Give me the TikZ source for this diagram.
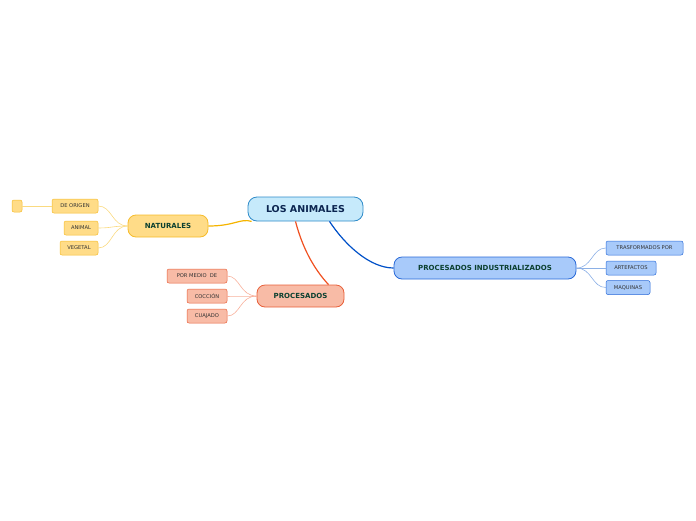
\documentclass[tikz,border=0pt]{standalone}
\usepackage{fontspec}
\setmainfont{DejaVu Sans}
\begin{document}
\begin{tikzpicture}[x=1pt,y=-1pt,
 box/.style={draw,rounded corners=#1,inner sep=0pt,align=center},
 root/.style={box=9pt,fill=rootf,draw=rootd,line width=0.8pt,minimum width=115pt,minimum height=24pt,font=\fontsize{9.5}{10}\selectfont\bfseries,text=roott},
 main/.style={box=8pt,line width=0.8pt,minimum height=22pt,font=\fontsize{7}{8}\selectfont\bfseries,text=maint},
 sub/.style={box=2pt,line width=0.5pt,minimum height=14pt,font=\fontsize{5.2}{6}\selectfont,text=black!80},
 nat/.style={fill=natf,draw=natd},
 pro/.style={fill=prof,draw=prod},
 ind/.style={fill=indf,draw=indd},
]
\definecolor{rootf}{HTML}{C6EAFB}\definecolor{rootd}{HTML}{2E8BC9}\definecolor{roott}{HTML}{0B2550}
\definecolor{maint}{HTML}{0B4030}
\definecolor{natf}{HTML}{FFDC88}\definecolor{natd}{HTML}{F6BC2A}\definecolor{natl}{HTML}{F5B400}
\definecolor{prof}{HTML}{F8BBA6}\definecolor{prod}{HTML}{E8603A}\definecolor{prol}{HTML}{F05020}
\definecolor{indf}{HTML}{A8CAFA}\definecolor{indd}{HTML}{2A6AD8}\definecolor{indl}{HTML}{0050C8}
\useasboundingbox (0,0) rectangle (696,520);
\node[root] (r) at (305.5,209) {LOS ANIMALES};
\node[main,nat,minimum width=80pt] (n) at (168,226) {NATURALES};
\node[main,pro,minimum width=87pt] (p) at (300.5,296) {PROCESADOS};
\node[main,ind,minimum width=182pt] (i) at (485,268) {PROCESADOS INDUSTRIALIZADOS};
\node[sub,nat,minimum width=46pt] (n1) at (75,206) {DE ORIGEN};
\node[sub,nat,minimum width=10pt,minimum height=12pt] (n0) at (17,206) {};
\node[sub,nat,minimum width=34pt] (n2) at (81,228) {ANIMAL};
\node[sub,nat,minimum width=38pt] (n3) at (79,248) {VEGETAL};
\node[sub,pro,minimum width=60pt] (p1) at (197,276) {POR MEDIO\ \ DE};
\node[sub,pro,minimum width=40pt] (p2) at (207,296) {COCCIÓN};
\node[sub,pro,minimum width=40pt] (p3) at (207,316) {CUAJADO};
\node[sub,ind,minimum width=77pt] (i1) at (644.5,248) {TRASFORMADOS POR};
\node[sub,ind,minimum width=50pt] (i2) at (631,268) {ARTEFACTOS};
\node[sub,ind,minimum width=44pt] (i3) at (628,287.5) {MAQUINAS};
\begin{scope}[on background layer/.style={}]
\draw[natl,line width=1.2pt] (n.east) .. controls (235,226) and (240,218) .. ([xshift=4pt]r.south west);
\draw[prol,line width=1.2pt] ([xshift=-10pt]r.south) .. controls (303,250) and (315,270) .. ([xshift=28pt]p.north);
\draw[indl,line width=1.2pt] ([xshift=24pt]r.south) .. controls (345,245) and (370,268) .. (i.west);
\foreach \c in {n1,n2,n3}{\draw[natl!50,line width=0.6pt] (n.west) .. controls (112,226) and (112,0 |- \c.east) .. (\c.east);}
\draw[natl!50,line width=0.6pt] (n1.west) -- (n0.east);
\foreach \c in {p1,p2,p3}{\draw[prol!45,line width=0.6pt] (p.west) .. controls (240,296) and (240,0 |- \c.east) .. (\c.east);}
\foreach \c in {i1,i2,i3}{\draw[indl!45,line width=0.6pt] (i.east) .. controls (592,268) and (592,0 |- \c.west) .. (\c.west);}
\end{scope}
\end{tikzpicture}
\end{document}
